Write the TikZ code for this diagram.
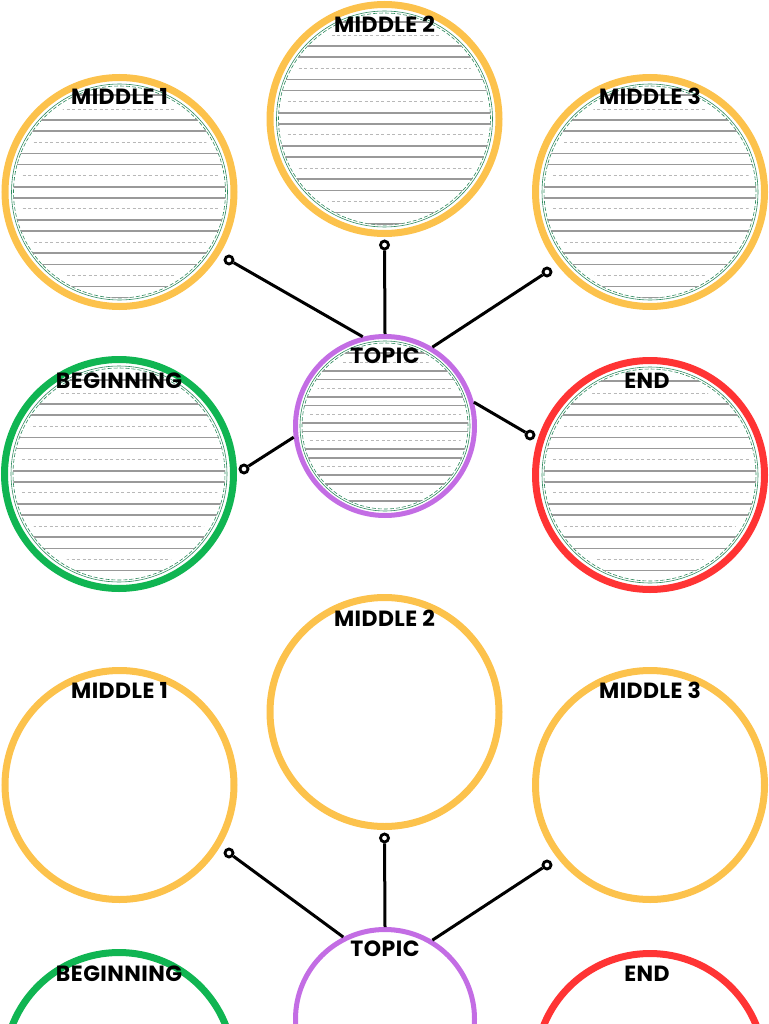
\documentclass[tikz,border=0pt]{standalone}
\usepackage{fontspec}
\newfontfamily\labfont{Poppins}[LetterSpace=2]
\usetikzlibrary{calc}
\definecolor{ryellow}{HTML}{FCC24C}
\definecolor{rgreen}{HTML}{10B552}
\definecolor{rred}{HTML}{FF3434}
\definecolor{rpurple}{HTML}{C36DE4}
\definecolor{rteal}{HTML}{2E8A5E}
\definecolor{rulegray}{HTML}{999999}
\definecolor{dashgray}{HTML}{B8B8B8}
\tikzset{
 ring/.style={circle, draw=#1, line width=7pt, minimum size=229pt, inner sep=0pt, outer sep=0pt},
 topicring/.style={circle, draw=rpurple, line width=5pt, minimum size=179pt, inner sep=0pt},
 lab/.style={font=\labfont\bfseries\fontsize{22}{22}\selectfont, anchor=base, inner sep=0pt},
 dot/.style={circle, draw=black, fill=white, line width=2.8pt, minimum size=8pt, inner sep=0pt},
 link/.style={draw=black, line width=3pt},
 rulesolid/.style={draw=rulegray, line width=1.7pt},
 ruledash/.style={draw=dashgray, line width=0.9pt, dash pattern=on 3pt off 2.5pt},
 innersolid/.style={draw=rteal, line width=0.6pt},
 innerdash/.style={draw=rteal, line width=0.6pt, dash pattern=on 4pt off 2pt},
}
% #1 node, #2 clip radius, #3 title line offset, #4 first dashed offset, #5 spacing, #6 periods
\newcommand\rulings[6]{%
 \draw[innersolid] (#1.center) circle (#2pt+2pt);
 \draw[innerdash] (#1.center) circle (#2pt);
 \begin{scope}
  \clip (#1.center) circle (#2pt);
  \draw[rulesolid] ($(#1.center)+(-130,#3)$) -- ++(260,0);
  \foreach \k in {0,...,#6}{
    \pgfmathsetmacro\yy{#4+3*#5*\k}
    \draw[rulesolid] ($(#1.center)+(-130,\yy+#5)$) -- ++(260,0);
    \draw[rulesolid] ($(#1.center)+(-130,\yy+2*#5)$) -- ++(260,0);
  }
 \end{scope}
 \begin{scope}
  \clip (#1.center) circle (#2pt-6pt);
  \foreach \k in {0,...,#6}{
    \pgfmathsetmacro\yy{#4+3*#5*\k}
    \draw[ruledash] ($(#1.center)+(-130,\yy)$) -- ++(260,0);
  }
 \end{scope}
}
\tikzset{
 pics/web/.style={code={
  \node[ring=ryellow] (-m1) at (119.5,192) {};
  \node[ring=ryellow] (-m2) at (384.5,119) {};
  \node[ring=ryellow] (-m3) at (650,192) {};
  \node[ring=rgreen] (-b) at (119,474) {};
  \node[ring=rred] (-e) at (650,475) {};
  \node[topicring] (-t) at (385,426) {};
  \ifnum#1=1
   \rulings{-m1}{106}{-97}{-83}{11.1}{5}
   \rulings{-m2}{106}{-97}{-84}{11.1}{5}
   \rulings{-m3}{106}{-97}{-83}{11.1}{5}
   \rulings{-b}{106}{-94}{-81}{11.1}{5}
   \rulings{-e}{106}{-94}{-82}{11.1}{5}
   \rulings{-t}{83}{-73}{-64}{8.7}{5}
  \fi
  \node[lab] (-m1l) at (119.5,105) {MIDDLE 1};
  \node[lab] (-m2l) at (384.5,33) {MIDDLE 2};
  \node[lab] (-m3l) at (650,105) {MIDDLE 3};
  \node[lab] (-bl) at (119,388) {BEGINNING};
  \node[lab] (-el) at (647,388) {END};
  \node[lab] (-tl) at (385,363) {TOPIC};
  \node[dot] (-d1) at (229,260) {};
  \node[dot] (-d2) at (384.5,245) {};
  \node[dot] (-d3) at (547,272) {};
  \draw[link] (-d2) -- (-t.90);
  \draw[link] (-d3) -- (-t.59);
  \ifnum#1=1
   \draw[link] (-d1) -- (-t.104);
   \node[dot] (-d4) at (244,469) {};
   \node[dot] (-d5) at (530,435) {};
   \draw[link] (-d4) -- (-t.187);
   \draw[link] (-d5) -- (-t.15);
  \else
   \draw[link] (-d1) -- (-t.117);
  \fi
 }}
}
\begin{document}
\begin{tikzpicture}[x=1pt,y=-1pt]
\clip (0,0) rectangle (768,1024);
\useasboundingbox (0,0) rectangle (768,1024);
\pic (T) at (0,0) {web=1};
\pic (B) at (0,593) {web=0};
\end{tikzpicture}
\end{document}
